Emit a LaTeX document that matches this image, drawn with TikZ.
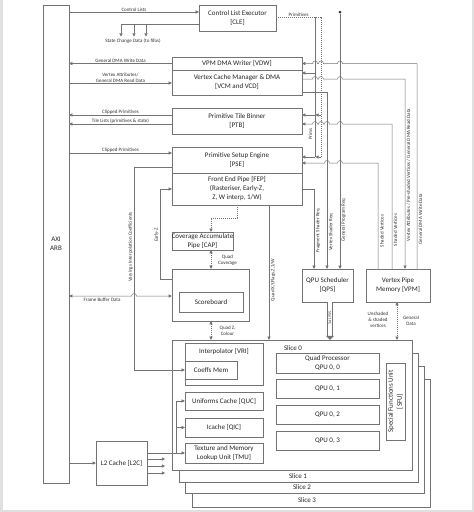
\documentclass[tikz,border=0pt]{standalone}
\usepackage{fontspec}
\setmainfont{Carlito}
\usetikzlibrary{arrows.meta}

% hop of a horizontal line over a vertical one (leftward / rightward)
\newcommand{\hopl}[2]{-- (#1+2.5,#2) .. controls (#1+2.5,#2-3.3) and (#1-2.5,#2-3.3) .. (#1-2.5,#2)}
\newcommand{\hopr}[2]{-- (#1-2.5,#2) .. controls (#1-2.5,#2-3.3) and (#1+2.5,#2-3.3) .. (#1+2.5,#2)}

\begin{document}
\begin{tikzpicture}[x=1pt, y=-1pt,
    blk/.style={draw=black!55, fill=white, align=center, inner sep=0pt, text=black!85, font=\fontsize{7}{9}\selectfont},
    lbl/.style={inner sep=0.6pt, align=center, text=black!80, font=\fontsize{5}{6}\selectfont},
    conn/.style={draw=black!55, line width=0.5pt},
    dots/.style={conn, dash pattern=on 1pt off 1pt},
    >={Triangle[length=3.2pt,width=3.2pt]}]
    % Frame
    \fill[black!12] (0,0) rectangle (474,512);
    \fill[white] (2.5,0) rectangle (471.5,509.5);

    % Blocks
    \node[blk, minimum width=26pt, minimum height=478pt] (axi) at (56,244) {AXI\\ARB};
    \node[blk, minimum width=77pt, minimum height=26pt] (cle) at (237.5,18) {Control List Executor\\{[CLE]}};
    \node[blk, minimum width=130pt, minimum height=13pt] (vdw) at (237,63.5) {VPM DMA Writer [VDW]};
    \node[blk, minimum width=130pt, minimum height=25pt] (vcm) at (237,82.5) {Vertex Cache Manager \& DMA\\{[VCM and VCD]}};
    \node[blk, minimum width=130pt, minimum height=26pt] (ptb) at (237,121) {Primitive Tile Binner\\{[PTB]}};
    \node[blk, minimum width=130pt, minimum height=26pt] (pse) at (237,160) {Primitive Setup Engine\\{[PSE]}};
    \node[blk, minimum width=130pt, minimum height=32pt] (fep) at (237,189) {Front End Pipe [FEP]\\(Rasteriser, Early-Z,\\Z, W interp, 1/W)};
    \node[blk, minimum width=61pt, minimum height=18pt] (cap) at (202.5,241) {Coverage Accumulate\\Pipe [CAP]};
    \node[blk, minimum width=77pt, minimum height=52pt] (sbo) at (210.5,295) {};
    \node[blk, minimum width=64pt, minimum height=20pt] (sb) at (211,302) {Scoreboard};
    \node[blk, minimum width=51pt, minimum height=33pt] (qps) at (327.5,285.5) {QPU Scheduler\\{[QPS]}};
    \node[blk, minimum width=64pt, minimum height=33pt] (vpm) at (398,285.5) {Vertex Pipe\\Memory [VPM]};
    \node[blk, minimum width=51pt, minimum height=44pt] (l2c) at (121.5,463) {L2 Cache [L2C]};

    % Slices
    \node[blk, minimum width=238pt, minimum height=128pt] (slice3) at (311,443) {};
    \node[blk, minimum width=239pt, minimum height=127pt] (slice2) at (304.5,429.5) {};
    \node[blk, minimum width=239pt, minimum height=129pt] (slice1) at (298.5,417.5) {};
    \node[blk, minimum width=240pt, minimum height=130pt] (slice0) at (292,405) {};
    \node[blk, draw=none, fill=none] (ls3) at (307,500.5) {Slice 3};
    \node[blk, draw=none, fill=none] (ls2) at (302,487.5) {Slice 2};
    \node[blk, draw=none, fill=none] (ls1) at (298,476) {Slice 1};
    \node[blk, draw=none, fill=none] (ls0) at (293,348) {Slice 0};
    \node[blk, minimum width=78pt, minimum height=42pt] (vri) at (224,364) {};
    \node[blk, draw=none, fill=none] (lvri) at (224,352) {Interpolator [VRI]};
    \node[blk, minimum width=52pt, minimum height=18pt] (coef) at (211,370) {Coeffs Mem};
    \node[blk, minimum width=78pt, minimum height=18pt] (quc) at (224,401) {Uniforms Cache [QUC]};
    \node[blk, minimum width=78pt, minimum height=19pt] (qic) at (224,427.5) {Icache [QIC]};
    \node[blk, minimum width=78pt, minimum height=20pt] (tmu) at (224,453) {Texture and Memory\\Lookup Unit [TMU]};
    \node[blk, minimum width=103pt, minimum height=20pt] (qpu0) at (327.5,363) {Quad Processor\\QPU 0, 0};
    \node[blk, minimum width=103pt, minimum height=19pt] (qpu1) at (327.5,388.5) {QPU 0, 1};
    \node[blk, minimum width=103pt, minimum height=19pt] (qpu2) at (327.5,414.5) {QPU 0, 2};
    \node[blk, minimum width=103pt, minimum height=19pt] (qpu3) at (327.5,440.5) {QPU 0, 3};
    \node[blk, rotate=90, minimum width=77pt, minimum height=19pt] (sfu) at (395.5,401.5) {Special Functions Unit\\{[SFU]}};

    % Left side connectors
    \draw[conn,->] (axi.east |- 0,12) -- node[lbl,above] (lcl) {Control Lists} (cle.west |- 0,12);
    \draw[conn] (cle.west |- 0,24) -- (121,24);
    \foreach \x in {121,134,146} \draw[conn,->] (\x,24) -- (\x,36.5);
    \node[lbl] (lscd) at (133,41) {State Change Data (to fifos)};
    \draw[conn,->] (vdw.west) -- node[lbl,above] (lgdw) {General DMA Write Data} (axi.east |- vdw.west);
    \draw[conn,->] (axi.east |- 0,83) -- node[lbl,above] (lva) {Vertex Attributes/\\General DMA Read Data} (vcm.west |- 0,83);
    \draw[conn,->] (ptb.west |- 0,115) -- node[lbl,above] (lcp1) {Clipped Primitives} (axi.east |- 0,115);
    \draw[conn,->] (ptb.west |- 0,124) -- node[lbl,above] (ltl) {Tile Lists (primitives \& state)} (axi.east |- 0,124);
    \draw[conn,->] (axi.east |- 0,153) -- node[lbl,above] (lcp2) {Clipped Primitives} (pse.west |- 0,153);
    \draw[conn,->] (pse.west |- 0,167) -- (134,167) -- (coef.west -| 134,0) -- (coef.west);
    \node[lbl, rotate=90] (lvic) at (130.5,247) {Varyings Interpolation Coefficients};
    \draw[conn,->] (sbo.west |- 0,279) -- (160,279) -- (160,189) -- (fep.west |- 0,189);
    \node[lbl, rotate=90] (lez) at (156.5,235) {Early-Z};
    \draw[conn,<->] (axi.east |- 0,296) \hopr{134}{296} -- (sbo.west |- 0,296);
    \node[lbl] (lfb) at (102,300) {Frame Buffer Data};

    % Middle connectors
    \draw[dots,->] (fep.south) -- (237,218) -- (211,218) -- (cap.north -| 211,0);
    \draw[dots,<->] (cap.south -| 211,0) -- (sbo.north -| 211,0);
    \node[lbl] (lqc) at (227.5,260) {Quad\\Coverage};
    \draw[dots,<->] (sbo.south -| 211,0) -- (slice0.north -| 211,0);
    \node[lbl] (lqz) at (227.5,331) {Quad Z,\\Colour};
    \draw[conn,->] (fep.south -| 269,0) -- (slice0.north -| 269,0);
    \node[lbl, rotate=90] (lqxy) at (273,280) {Quad X,Y,Flags,Z,1/W};

    % Right side connectors
    \draw[dots] (cle.east |- 0,17) -- node[lbl,above] (lprim) {Primitives} (321,17) -- (321,157);
    \draw[conn] (315,17) -- (315,157);
    \draw[conn,->] (315,73) -- (vcm.east |- 0,73);
    \draw[conn,->] (315,115) -- (ptb.east |- 0,115);
    \draw[conn,->] (315,157) -- (pse.east |- 0,157);
    \draw[dots,->] (321,115) -- (315.5,115);
    \draw[dots,->] (321,157) -- (315.5,157);
    \node[lbl, rotate=90] (lprims) at (310.5,134) {Prims};
    \node[circle, fill=black!80, inner sep=0pt, minimum size=3pt] (gpr) at (340,12) {};
    \draw[conn,->] (gpr) -- (qps.north -| gpr);
    \node[lbl, rotate=90] (lgpr) at (343.5,220) {General Program Req};
    \draw[conn,->] (fep.east |- 0,189) -- (314,189) -- (qps.north -| 314,0);
    \node[lbl, rotate=90] (lfsr) at (318,231) {Fragment Shader Req};
    \draw[conn,->] (vcm.east |- 0,92) -- (327,92) -- (qps.north -| 327,0);
    \node[lbl, rotate=90] (lvsr) at (331,232) {Vertex Shader Req};
    \draw[conn,->] (vpm.north -| 378,0) -- (378,163) \hopl{340}{163} \hopl{327}{163} -- (pse.east |- 0,163);
    \node[lbl, rotate=90] (lsv1) at (382,231) {Shaded Vertices};
    \draw[conn,->] (vpm.north -| 392,0) -- (392,124) \hopl{340}{124} \hopl{327}{124} \hopl{321}{124} \hopl{315}{124} -- (ptb.east |- 0,124);
    \node[lbl, rotate=90] (lsv2) at (395.5,230) {Shaded Vertices};
    \draw[conn,->] (vcm.east |- 0,79) \hopr{315}{79} \hopr{321}{79} \hopr{340}{79} -- (405,79) -- (vpm.north -| 405,0);
    \node[lbl, rotate=90] (lvapv) at (408.5,175) {Vertex Attributes / Pre-shaded Vertices / General DMA Read Data};
    \draw[conn,->] (vpm.north -| 417,0) -- (417,63.5) \hopl{340}{63.5} \hopl{321}{63.5} \hopl{315}{63.5} -- (vdw.east);
    \node[lbl, rotate=90] (lgdw2) at (420.5,219) {General DMA Write Data};

    % Scheduler, VPM and L2 to the slices
    \draw[conn, double=white, double distance=4.5pt, -{Triangle[length=4pt,width=8pt]}] (qps.south -| 330,0) -- (slice0.north -| 330,0);
    \node[lbl, rotate=-90, font=\fontsize{4}{5}\selectfont] (lspc) at (330,318) {Start PC};
    \draw[dots,<->] (vpm.south -| 397,0) -- (slice0.north -| 397,0);
    \node[lbl] (luv) at (378,320) {Unshaded\\\& shaded\\vertices};
    \node[lbl] (lgd) at (411,321) {General\\Data};
    \draw[conn,->] (axi.east |- l2c.west) -- (l2c.west);
    \draw[conn,->] (l2c.east |- 0,453) -- (tmu.west);
    \draw[conn,->] (176,453) |- (quc.west);
    \draw[conn,->] (176,427.5) -- (qic.west);
    \foreach \y in {459,466,473} \draw[conn,->] (l2c.east |- 0,\y) -- (165,\y);
\end{tikzpicture}
\end{document}
